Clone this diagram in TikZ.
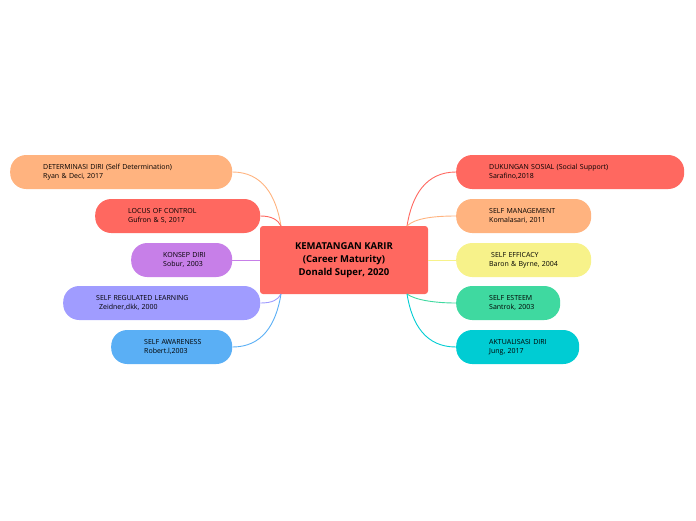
\documentclass[tikz,border=0pt]{standalone}
\usepackage{fontspec}
\setmainfont{Open Sans}
\begin{document}
\begin{tikzpicture}[x=1pt,y=-1pt,
 leaf/.style={rounded corners=16pt,minimum height=34pt,inner xsep=0pt,font=\fontsize{7}{9}\selectfont,align=left,anchor=west},
 conn/.style={line width=0.9pt}]
\useasboundingbox (0,0) rectangle (696,520);
\definecolor{cred}{HTML}{FF6860}
\definecolor{cpeach}{HTML}{FFB37F}
\definecolor{cpurp}{HTML}{C77FE8}
\definecolor{cblpu}{HTML}{A09CFF}
\definecolor{cblue}{HTML}{5AAFF5}
\definecolor{cyel}{HTML}{F7F28A}
\definecolor{cgreen}{HTML}{3FD9A0}
\definecolor{ccyan}{HTML}{00CCD3}
\node[fill=cred,rounded corners=3pt,minimum width=168pt,minimum height=68pt,align=center,font=\bfseries\fontsize{9.5}{13}\selectfont] (c) at (344,260) {KEMATANGAN KARIR\\(Career Maturity)\\Donald Super, 2020};
% left
\node[leaf,fill=cpeach,minimum width=222pt,text width=200pt] (l1) at (10,172) {\hspace*{22pt}DETERMINASI DIRI (Self Determination)\\\hspace*{22pt}Ryan \& Deci, 2017};
\node[leaf,fill=cred,minimum width=165pt,text width=143pt] (l2) at (95,216) {\hspace*{22pt}LOCUS OF CONTROL\\\hspace*{22pt}Gufron \& S, 2017};
\node[leaf,fill=cpurp,minimum width=101pt,text width=79pt] (l3) at (131,260) {\hspace*{21pt}KONSEP DIRI\\\hspace*{21pt}Sobur, 2003};
\node[leaf,fill=cblpu,minimum width=197pt,text width=175pt] (l4) at (63,303) {\hspace*{22pt}SELF REGULATED LEARNING\\\hspace*{25pt}Zeidner,dkk, 2000};
\node[leaf,fill=cblue,minimum width=121pt,text width=99pt] (l5) at (111,347) {\hspace*{22pt}SELF AWARENESS\\\hspace*{22pt}Robert.l,2003};
% right
\node[leaf,fill=cred,minimum width=228pt,text width=206pt] (r1) at (456,172) {\hspace*{22pt}DUKUNGAN SOSIAL (Social Support)\\\hspace*{22pt}Sarafino,2018};
\node[leaf,fill=cpeach,minimum width=135pt,text width=113pt] (r2) at (456,216) {\hspace*{22pt}SELF MANAGEMENT\\\hspace*{22pt}Komalasari, 2011};
\node[leaf,fill=cyel,minimum width=135pt,text width=113pt] (r3) at (456,260) {\hspace*{24pt}SELF EFFICACY\\\hspace*{22pt}Baron \& Byrne, 2004};
\node[leaf,fill=cgreen,minimum width=104pt,text width=82pt] (r4) at (456,303) {\hspace*{22pt}SELF ESTEEM\\\hspace*{22pt}Santrok, 2003};
\node[leaf,fill=ccyan,minimum width=123pt,text width=101pt] (r5) at (456,347) {\hspace*{22pt}AKTUALISASI DIRI\\\hspace*{22pt}Jung, 2017};
\coordinate (cl1) at (281,226);
\coordinate (cl5) at (281,294);
\coordinate (cr1) at (407,226);
\coordinate (cr5) at (407,294);
\draw[conn,cpeach] (l1.east) .. controls (262,172) and (276,195) .. (cl1);
\draw[conn,cred] (l2.east) .. controls (272,216) and (278,220) .. (cl1);
\draw[conn,cpurp] (l3.east) -- (c.west);
\draw[conn,cblpu] (l4.east) .. controls (272,303) and (278,300) .. (cl5);
\draw[conn,cblue] (l5.east) .. controls (262,347) and (276,325) .. (cl5);
\draw[conn,cred] (r1.west) .. controls (426,172) and (412,195) .. (cr1);
\draw[conn,cpeach] (r2.west) .. controls (435,216) and (415,218) .. (cr1);
\draw[conn,cyel] (r3.west) -- (c.east);
\draw[conn,cgreen] (r4.west) .. controls (435,303) and (415,300) .. (cr5);
\draw[conn,ccyan] (r5.west) .. controls (426,347) and (412,325) .. (cr5);
\end{tikzpicture}
\end{document}
